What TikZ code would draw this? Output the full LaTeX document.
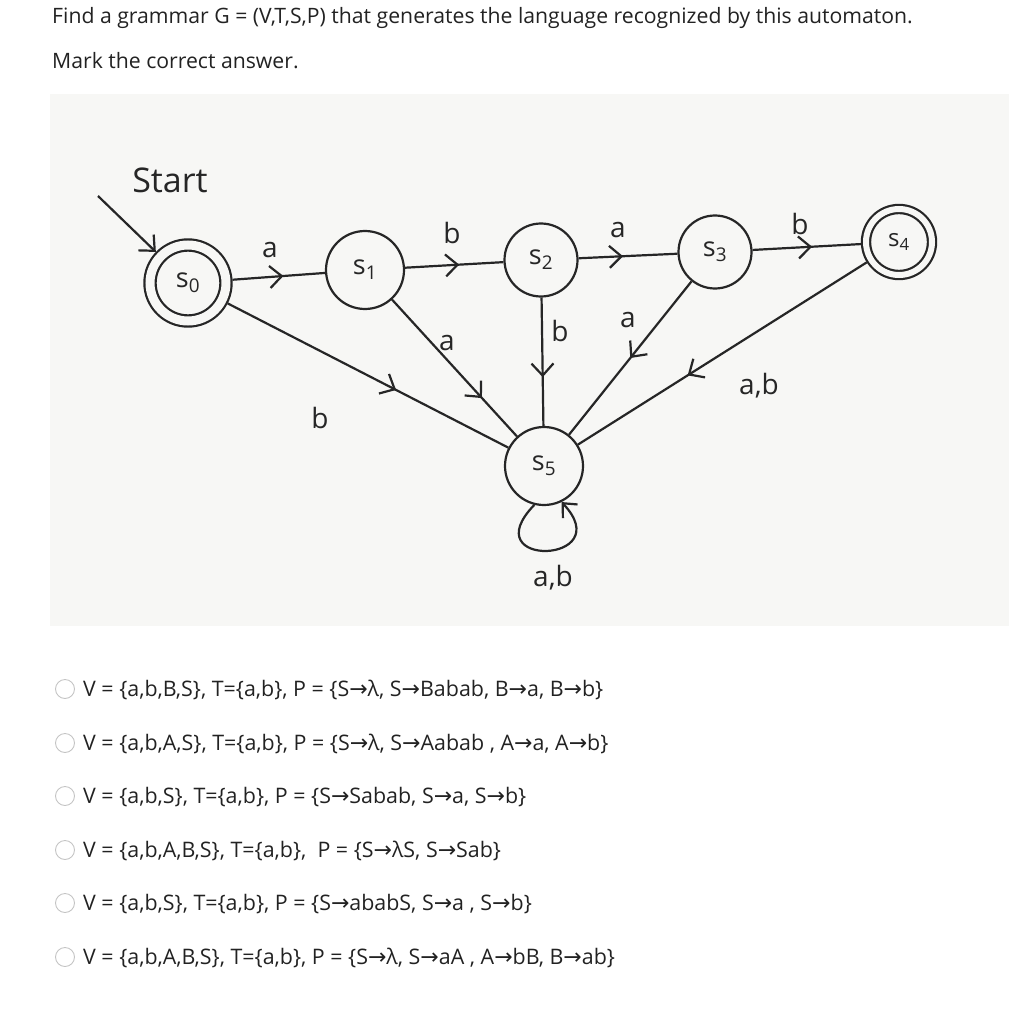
\documentclass[tikz,border=0pt]{standalone}
\usepackage{fontspec}
\setmainfont{Open Sans}
\newfontfamily\arrowfont{DejaVu Sans}
\usetikzlibrary{arrows.meta, decorations.markings, positioning}

\definecolor{panelgray}{HTML}{F7F7F5}
\definecolor{inkgray}{HTML}{262626}
\definecolor{radiogray}{HTML}{C4C4C4}
\definecolor{textblack}{HTML}{222222}

% production arrow and state names
\newcommand{\prodto}{{\arrowfont\fontsize{22}{22}\selectfont→}}
\newcommand{\stname}[1]{s\textsubscript{#1}}

\tikzset{
  edge/.style={draw=inkgray, line width=2.2pt},
  midarrow/.style={postaction={decorate}, decoration={markings,
      mark=at position #1 with {\arrow{Straight Barb[length=12pt, width=22pt, line width=2.2pt]}}}},
  midarrow/.default=0.5,
  state/.style={circle, draw=inkgray, line width=2.2pt, minimum size=76pt, inner sep=0pt,
      text=inkgray, font=\fontsize{27}{27}\selectfont},
  accept/.style={state, double=panelgray, double distance=9pt, outer sep=6.7pt},
  lbl/.style={text=inkgray, font=\fontsize{28}{28}\selectfont, inner sep=0pt},
  radio/.style={circle, draw=radiogray, line width=0.9pt, minimum size=19pt, inner sep=0pt},
  option/.style={anchor=west, inner sep=0pt, text=textblack, font=\fontsize{21.4}{21.4}\selectfont},
  heading/.style={anchor=west, inner sep=0pt, text=textblack, font=\fontsize{21.2}{21.2}\selectfont}
}

\begin{document}
\begin{tikzpicture}[x=1pt, y=-1pt]
    \useasboundingbox (0,0) rectangle (1009,1024);

    % Question text
    \node[heading] (question) at (52,18) {Find a grammar G = (V,T,S,P) that generates the language recognized by this automaton.};
    \node[heading] (instruction) at (52,61) {Mark the correct answer.};

    % Sketch background
    \fill[panelgray] (50,94) rectangle (1009,626);

    % States of the automaton
    \node[accept, minimum size=76pt] (s0) at (188,283) {\stname{0}};
    \node[state, minimum size=78pt] (s1) at (365,270) {\stname{1}};
    \node[state, minimum size=73pt] (s2) at (541,260) {\stname{2}};
    \node[state, minimum size=73pt] (s3) at (715,252) {\stname{3}};
    \node[accept, minimum size=66pt, double distance=6pt, outer sep=5.2pt,
          font=\fontsize{24}{24}\selectfont] (s4) at (899,242) {\stname{4}};
    \node[state, minimum size=78pt] (s5) at (544,466) {\stname{5}};

    % Start arrow
    \node[lbl, font=\fontsize{34}{34}\selectfont] (startlbl) at (170,180) {Start};
    \coordinate (start) at (98,196);
    \draw[edge, -{Straight Barb[length=12pt, width=22pt, line width=2.2pt]}] (start) -- (s0);

    % Upper chain s0 -> s4
    \draw[edge, midarrow=0.55] (s0) -- (s1);
    \draw[edge, midarrow=0.55] (s1) -- (s2);
    \draw[edge, midarrow=0.45] (s2) -- (s3);
    \draw[edge, midarrow=0.55] (s3) -- (s4);

    % Transitions into the trap state s5
    \draw[edge, midarrow=0.6] (s0) -- (s5);
    \draw[edge, midarrow=0.72] (s1) -- (s5);
    \draw[edge, midarrow=0.62] (s2) -- (s5);
    \draw[edge, midarrow=0.5] (s3) -- (s5);
    \draw[edge, midarrow=0.62] (s4) -- (s5);

    % Self loop on s5
    \draw[edge, -{Straight Barb[length=11pt, width=20pt, line width=2.2pt]}]
        (s5.256) .. controls +(-62,64) and +(58,62) .. (s5.296);

    % Transition labels
    \node[lbl] (l01) at (270,250) {a};
    \node[lbl] (l12) at (452,233) {b};
    \node[lbl] (l23) at (618,230) {a};
    \node[lbl] (l34) at (800,224) {b};
    \node[lbl] (l05) at (320,418) {b};
    \node[lbl] (l15) at (447,343) {a};
    \node[lbl] (l25) at (560,331) {b};
    \node[lbl] (l35) at (628,320) {a};
    \node[lbl] (l45) at (759,386) {a,b};
    \node[lbl] (l55) at (553,578) {a,b};

    % Answer choices
    \node[radio] (r1) at (65,689) {};
    \node[option] (o1) at (83,690) {V = \{a,b,B,S\}, T=\{a,b\}, P = \{S\prodto λ, S\prodto Babab, B\prodto a, B\prodto b\}};
    \node[radio] (r2) at (65,743) {};
    \node[option] (o2) at (83,744) {V = \{a,b,A,S\}, T=\{a,b\}, P = \{S\prodto λ, S\prodto Aabab , A\prodto a, A\prodto b\}};
    \node[radio] (r3) at (65,796) {};
    \node[option] (o3) at (83,797) {V = \{a,b,S\}, T=\{a,b\}, P = \{S\prodto Sabab, S\prodto a, S\prodto b\}};
    \node[radio] (r4) at (65,850) {};
    \node[option] (o4) at (83,851) {V = \{a,b,A,B,S\}, T=\{a,b\},\ \ P = \{S\prodto λS, S\prodto Sab\}};
    \node[radio] (r5) at (65,903) {};
    \node[option] (o5) at (83,904) {V = \{a,b,S\}, T=\{a,b\}, P = \{S\prodto ababS, S\prodto a , S\prodto b\}};
    \node[radio] (r6) at (65,957) {};
    \node[option] (o6) at (83,958) {V = \{a,b,A,B,S\}, T=\{a,b\}, P = \{S\prodto λ, S\prodto aA , A\prodto bB, B\prodto ab\}};

\end{tikzpicture}
\end{document}
